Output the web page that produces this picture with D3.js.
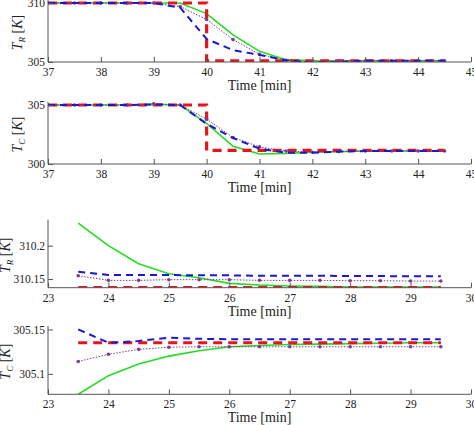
<!DOCTYPE html><html><head><meta charset="utf-8"><script src="https://cdn.jsdelivr.net/npm/d3@7"></script>
<style>body{margin:0;background:#fff}svg{font-family:"Liberation Serif",serif}</style></head><body><svg id="c" width="474" height="425"></svg><script>
const tA=[37,37.5,38,38.5,39,39.5,40,40.5,41,41.5,42,42.5,43,43.5,44,44.5];
const tB=[23.5,24,24.5,25,25.5,26,26.5,27,27.5,28,28.5,29,29.5];
const p1={red:[[37,310],[40,310],[40,305.1],[44.5,305.1]],
green:[310,310,310,310,310,310,309.1,307.3,305.9,305.2,305.1,305.1,305.1,305.1,305.1,305.1],
purple:[310,310,310,310,310,309.7,308.6,306.9,305.65,305.15,305.0,305.1,305.1,305.1,305.1,305.1],
blue:[310,310,310,310,310,309.6,306.95,306.0,305.6,305.15,304.95,305.0,305.1,305.1,305.1,305.1]};
const p2={red:[[37,305],[40,305],[40,301.15],[44.5,301.15]],
green:[305,305,305,305,305.05,305,303.45,301.5,300.85,300.9,301.0,301.05,301.1,301.1,301.1,301.1],
purple:[305,305,305,305,305.1,305,303.8,302.25,301.45,301.1,301.0,301.05,301.1,301.1,301.1,301.1],
blue:[305,305,305,305,305.05,305,303.4,302.2,301.3,300.95,300.95,301.05,301.1,301.1,301.1,301.1]};
const p3={red:[[23.5,310.137],[29.5,310.137]],
green:[310.234,310.2,310.173,310.158,310.152,310.1435,310.141,310.1395,310.139,310.138,310.138,310.138,310.138],
purple:[310.155,310.148,310.148,310.149,310.149,310.149,310.148,310.148,310.148,310.1475,310.1475,310.147,310.147],
blue:[310.161,310.156,310.156,310.156,310.1555,310.1555,310.155,310.155,310.155,310.1545,310.1545,310.154,310.154]};
const p4={red:[[23.5,305.135],[29.5,305.135]],
green:[305.077,305.098,305.111,305.120,305.126,305.1305,305.132,305.133,305.1335,305.134,305.1345,305.135,305.135],
purple:[305.114,305.122,305.1276,305.130,305.1305,305.1305,305.1305,305.1305,305.1305,305.1305,305.1305,305.1305,305.1305],
blue:[305.15,305.135,305.137,305.1406,305.1395,305.139,305.139,305.139,305.139,305.139,305.139,305.139,305.139]};
const panels=[
{d:p1,t:tA,xd:[37,45],xt:[37,38,39,40,41,42,43,44,45],yd:[305,310],yt:[305,310],yf:d3.format("d"),top:3,bot:62,lab:"R",lx:22},
{d:p2,t:tA,xd:[37,45],xt:[37,38,39,40,41,42,43,44,45],yd:[300,305],yt:[300,305],yf:d3.format("d"),top:105,bot:164,lab:"C",lx:22},
{d:p3,t:tB,xd:[23,30],xt:[23,24,25,26,27,28,29,30],yd:[310.137,310.2345],yt:[310.15,310.2],yf:v=>String(+v.toFixed(2)),top:222.7,bot:287.7,lab:"R",lx:10},
{d:p4,t:tB,xd:[23,30],xt:[23,24,25,26,27,28,29,30],yd:[305.077,305.1505],yt:[305.1,305.15],yf:v=>String(+v.toFixed(2)),top:329,bot:394.3,lab:"C",lx:10}];
const svg=d3.select("#c");
const L=48,R=471;
panels.forEach((p,pi)=>{
 const x=d3.scaleLinear().domain(p.xd).range([L,R]);
 const y=d3.scaleLinear().domain(p.yd).range([p.bot,p.top]);
 const g=svg.append("g");
 g.append("clipPath").attr("id","cl"+pi).append("rect").attr("x",L).attr("y",p.top-4).attr("width",R-L).attr("height",p.bot-p.top+4);
 const pg=g.append("g").attr("clip-path","url(#cl"+pi+")");
 const line=d3.line().x(d=>x(d[0])).y(d=>y(d[1]));
 const ser=k=>p.t.map((t,i)=>[t,p.d[k][i]]);
 pg.append("path").attr("d",line(ser("green"))).attr("fill","none").attr("stroke","#22dd22").attr("stroke-width",1.6);
 pg.append("path").attr("d",line(p.d.red)).attr("fill","none").attr("stroke","#e8141c").attr("stroke-width",3.2).attr("stroke-dasharray","9,6");
 pg.append("path").attr("d",line(ser("purple"))).attr("fill","none").attr("stroke","#7e3b8f").attr("stroke-width",1).attr("stroke-dasharray","1.5,1.5");
 pg.selectAll("circle").data(ser("purple")).join("circle").attr("cx",d=>x(d[0])).attr("cy",d=>y(d[1])).attr("r",1.8).attr("fill","#7e3b8f");
 pg.append("path").attr("d",line(ser("blue"))).attr("fill","none").attr("stroke","#1a1ad0").attr("stroke-width",2).attr("stroke-dasharray","7,5");
 const ax=g.append("g").attr("transform",`translate(0,${p.bot})`).call(d3.axisBottom(x).tickValues(p.xt).tickSizeInner(-5).tickSizeOuter(0).tickPadding(6).tickFormat(d3.format("d")));
 const ay=g.append("g").attr("transform",`translate(${L},0)`).call(d3.axisLeft(y).tickValues(p.yt).tickSizeInner(-5).tickSizeOuter(0).tickPadding(3).tickFormat(p.yf));
 [ax,ay].forEach(a=>{a.selectAll("path,line").attr("stroke","#555");a.selectAll("text").attr("font-size",11.5).attr("fill","#222").attr("font-family","Liberation Serif")});
 ax.select(".domain").attr("d",`M${L},0H${R}`);
 ay.select(".domain").attr("d",`M0,${p.bot}V${p.top-3}`);
 g.append("text").attr("x",(L+R)/2).attr("y",p.bot+28).attr("text-anchor","middle").attr("font-size",14).attr("fill","#222").text("Time [min]");
 const yl=g.append("text").attr("transform",`translate(${p.lx},${(p.top+p.bot)/2}) rotate(-90)`).attr("text-anchor","middle").attr("font-size",14).attr("fill","#222");
 yl.append("tspan").attr("font-style","italic").text("T");
 yl.append("tspan").attr("font-style","italic").attr("font-size",9).attr("dy",3).text(p.lab);
 yl.append("tspan").attr("dy",-3).text(" [");
 yl.append("tspan").attr("font-style","italic").text("K");
 yl.append("tspan").text("]");
});
</script></body></html>
